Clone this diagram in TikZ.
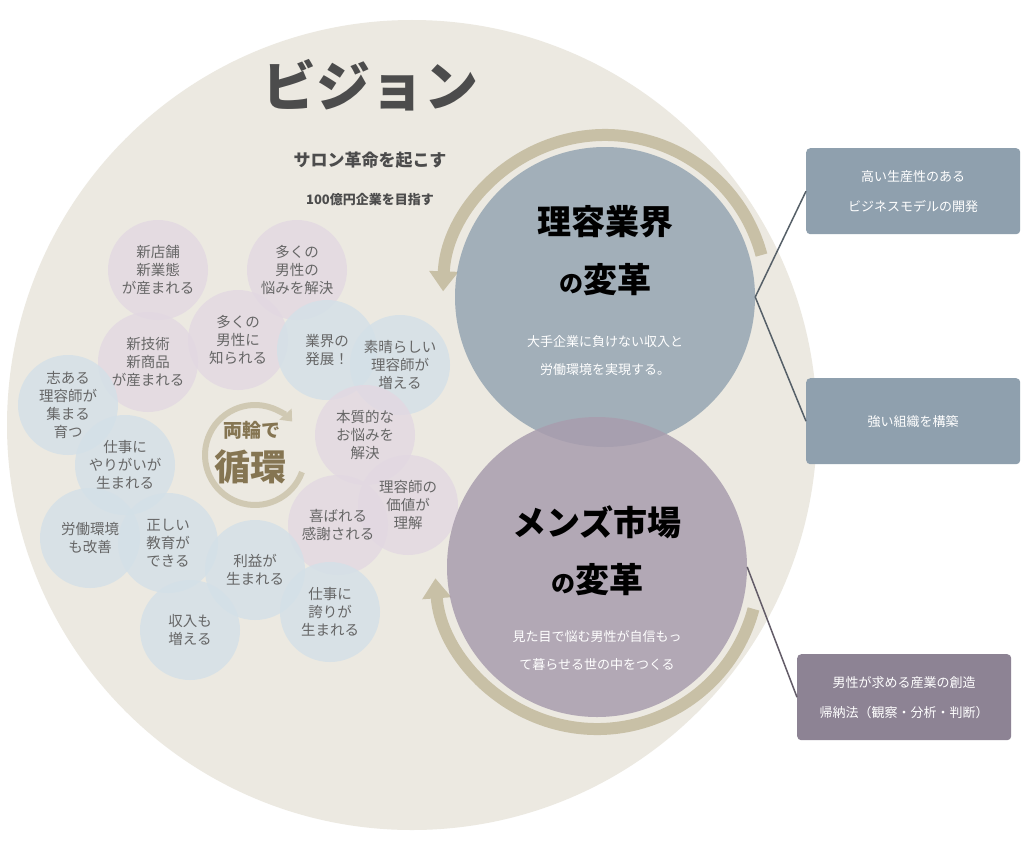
\documentclass[tikz,border=0pt]{standalone}
\usepackage{fontspec}
\setmainfont{Noto Sans CJK JP}
\usetikzlibrary{arrows.meta}
\definecolor{bgbeige}{HTML}{ECE9E1}
\definecolor{wheelblue}{HTML}{96A6B2}
\definecolor{wheelpurple}{HTML}{A99DAE}
\definecolor{arcbeige}{HTML}{C8C0A6}
\definecolor{softblue}{HTML}{D3E0E8}
\definecolor{softpurple}{HTML}{E2D8E2}
\definecolor{olive}{HTML}{857552}
\definecolor{boxblue}{HTML}{8FA0AE}
\definecolor{boxpurple}{HTML}{8D8394}
\tikzset{
  bubble/.style={circle,minimum size=100pt,inner sep=0pt,align=center,
    text=black!60,font=\fontsize{14.5}{18}\selectfont,fill opacity=0.8,text opacity=1},
  bluebub/.style={bubble,fill=softblue},
  purpbub/.style={bubble,fill=softpurple},
  wheel/.style={circle,minimum size=300pt,inner sep=0pt,fill opacity=0.85,text opacity=1},
  goalbox/.style={rounded corners=4pt,minimum width=214pt,minimum height=86pt,
    align=center,text=white,font=\fontsize{13}{30}\selectfont},
  wheelarc/.style={arcbeige,line width=12pt,-{Triangle[width=28pt,length=20pt]}},
  bigtitle/.style={font=\fontsize{34}{38}\selectfont\bfseries},
  subtext/.style={white,align=center,font=\fontsize{13}{28}\selectfont}
}
\begin{document}
\begin{tikzpicture}[x=1pt,y=-1pt]
  \useasboundingbox (0,0) rectangle (1024,851);
  \fill[white] (0,0) rectangle (1024,851);
  % Vision background
  \fill[bgbeige] (412,425) circle (405);
  \node (vision) at (370,85) {\fontsize{54}{58}\selectfont\bfseries\color{black!70}ビジョン};
  \node (revolution) at (370,160) {\fontsize{17}{20}\selectfont\bfseries\color{black!70}サロン革命を起こす};
  \node (target) at (370,200) {\fontsize{13}{16}\selectfont\bfseries\color{black!70}100億円企業を目指す};

  % small bubbles
  \node[purpbub] (shop) at (158,270) {新店舗\\新業態\\が産まれる};
  \node[purpbub] (worry) at (297,270) {多くの\\男性の\\悩みを解決};
  \node[purpbub] (known) at (238,340) {多くの\\男性に\\知られる};
  \node[purpbub] (tech) at (148,362) {新技術\\新商品\\が産まれる};
  \node[bluebub] (develop) at (327,350) {業界の\\発展！};
  \node[bluebub] (barber) at (400,365) {素晴らしい\\理容師が\\増える};
  \node[bluebub] (gather) at (68,405) {志ある\\理容師が\\集まる\\育つ};
  \node[purpbub] (essence) at (365,435) {本質的な\\お悩みを\\解決};
  \node[bluebub] (worth) at (125,465) {仕事に\\やりがいが\\生まれる};
  \node[purpbub] (value) at (408,505) {理容師の\\価値が\\理解};
  \node[bluebub] (labor) at (90,538) {労働環境\\も改善};
  \node[bluebub] (educ) at (168,543) {正しい\\教育が\\できる};
  \node[purpbub] (thanks) at (338,525) {喜ばれる\\感謝される};
  \node[bluebub] (profit) at (255,570) {利益が\\生まれる};
  \node[bluebub] (pride) at (330,612) {仕事に\\誇りが\\生まれる};
  \node[bluebub] (income) at (190,630) {収入も\\増える};

  % cycle mark
  \draw[arcbeige!85!white,line width=6pt,-{Triangle[width=16pt,length=10pt]}]
    (255,455) ++(20:50) arc (20:318:50);
  \node[olive] (cycleA) at (252,430) {\fontsize{19}{22}\selectfont\bfseries 両輪で};
  \node[olive] (cycleB) at (250,467) {\fontsize{36}{40}\selectfont\bfseries 循環};

  % wheels
  \draw[wheelarc] (605,297) ++(-15:162) arc (-15:-178:162);
  \draw[wheelarc] (597,567) ++(15:162) arc (15:176:162);
  \node[wheel,fill=wheelblue] (industry) at (605,297) {};
  \node[wheel,fill=wheelpurple] (market) at (597,567) {};
  \node[bigtitle] (industryA) at (605,222) {理容業界};
  \node[bigtitle] (industryB) at (605,280) {\fontsize{24}{28}\selectfont の\fontsize{34}{38}\selectfont 変革};
  \node[subtext] (industryS) at (605,356) {大手企業に負けない収入と\\労働環境を実現する。};
  \node[bigtitle] (marketA) at (597,522) {メンズ市場};
  \node[bigtitle] (marketB) at (597,580) {\fontsize{24}{28}\selectfont の\fontsize{34}{38}\selectfont 変革};
  \node[subtext] (marketS) at (597,651) {見た目で悩む男性が自信もっ\\て暮らせる世の中をつくる};

  % goals
  \node[goalbox,fill=boxblue,anchor=north west] (goalA) at (806,148) {高い生産性のある\\ビジネスモデルの開発};
  \node[goalbox,fill=boxblue,anchor=north west] (goalB) at (806,378) {強い組織を構築};
  \node[goalbox,fill=boxpurple,anchor=north west] (goalC) at (797,654) {男性が求める産業の創造\\帰納法（観察・分析・判断）};
  \draw[boxblue!60!black,line width=1.5pt] (industry.east) -- (goalA.west);
  \draw[boxblue!60!black,line width=1.5pt] (industry.east) -- (goalB.west);
  \draw[boxpurple!70!black,line width=1.5pt] (market.east) -- (goalC.west);
\end{tikzpicture}
\end{document}
